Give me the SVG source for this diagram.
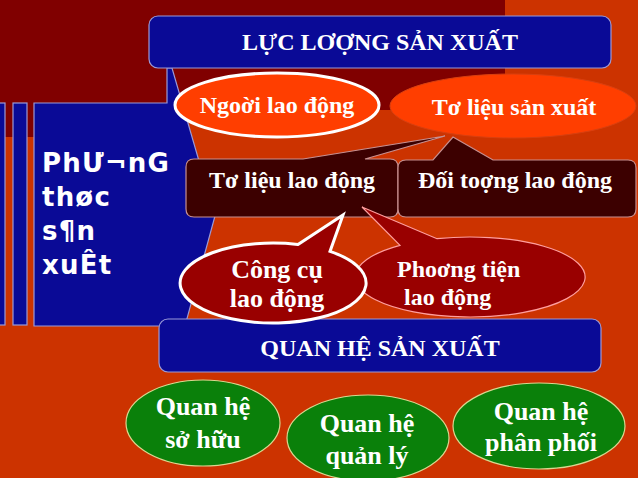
<svg xmlns="http://www.w3.org/2000/svg" width="638" height="478" viewBox="0 0 638 478">
<style>
.t{font-family:"Liberation Serif","DejaVu Serif",serif;font-weight:bold;font-size:24px;fill:#ffffff;text-anchor:middle}
.b{font-size:26px}
.ts{text-anchor:start}
.side{font-family:"DejaVu Sans","Liberation Sans",sans-serif;font-weight:bold;font-size:26px;fill:#ffffff;letter-spacing:1.2px}
.blue{fill:#0a0a96;stroke:#9a9ad8;stroke-width:1.2}
.dark{fill:#3c0000;stroke:#c89090;stroke-width:1.2}
.hot{fill:#ff3e00}
.wine{fill:#990000}
.green{fill:#0a800a;stroke:#d8d890;stroke-width:1.2}
</style>
<rect x="0" y="0" width="638" height="478" fill="#cc3300"/>
<polygon points="0,0 505,0 505,110 167,110 167,137 0,137" fill="#800000"/>
<g id="side-panel">
<polygon class="blue" points="34,103 167,103 167,68 172,68 215,216 185,326 34,326"/>
<rect class="blue" x="-2" y="103" width="7" height="222"/>
<rect class="blue" x="13" y="103" width="14" height="222"/>
<text class="side" x="42" y="172">PhƯ¬nG</text>
<text class="side" x="42" y="206">thøc</text>
<text class="side" x="42" y="240">s¶n</text>
<text class="side" x="42" y="274">xuÊt</text>
</g>
<g id="connectors"></g>
<g id="luc-luong">
<rect class="blue" x="149" y="16" width="462" height="52" rx="9"/>
<text class="t" x="380" y="50">LỰC LƠỢNG SẢN XUẤT</text>
</g>
<g id="nguoi-lao-dong">
<ellipse class="hot" cx="277" cy="105" rx="102" ry="32" stroke="#ffffff" stroke-width="3"/>
<text class="t" x="277" y="113">Ngoời lao động</text>
</g>
<g id="tu-lieu-san-xuat">
<ellipse class="hot" cx="513" cy="106" rx="123" ry="32" stroke="#d84010" stroke-width="1"/>
<text class="t" x="514" y="115">Tơ liệu sản xuất</text>
</g>
<g id="tu-lieu-lao-dong">
<path class="dark" d="M194,159 L303,159 L445,136 L365,159 L390,159 Q398,159 398,167 L398,209 Q398,217 390,217 L194,217 Q186,217 186,209 L186,167 Q186,159 194,159 Z"/>
<text class="t" x="292" y="188">Tơ liệu lao động</text>
</g>
<g id="doi-tuong-lao-dong">
<path class="dark" d="M406,160 L433,160 L453,137 L493,160 L628,160 Q636,160 636,168 L636,209 Q636,217 628,217 L406,217 Q398,217 398,209 L398,168 Q398,160 406,160 Z"/>
<text class="t" x="515" y="188">Đối toợng lao động</text>
</g>
<g id="quan-he-san-xuat">
<rect class="blue" x="159" y="319" width="442" height="53" rx="9"/>
<text class="t" x="380" y="356">QUAN HỆ SẢN XUẤT</text>
</g>
<g id="phuong-tien">
<path class="wine" stroke="#ff9f9f" stroke-width="1.2" d="M400,245.3 L362,207 L437,238.7 A115,40 0 1,1 400,245.3 Z"/>
<text class="t ts" x="397" y="277">Phoơng tiện</text>
<text class="t ts" x="404" y="305">lao động</text>
</g>
<g id="cong-cu">
<path class="wine" stroke="#ffffff" stroke-width="3" d="M298,244.5 L343,215 L330,251.4 A93,40 0 1,1 298,244.5 Z"/>
<text class="t b" x="277" y="278">Công cụ</text>
<text class="t b" x="277" y="307">lao động</text>
</g>
<g id="so-huu">
<ellipse class="green" cx="203" cy="423" rx="77" ry="43"/>
<text class="t b" x="203" y="415">Quan hệ</text>
<text class="t b" x="203" y="448">sở hữu</text>
</g>
<g id="quan-ly">
<ellipse class="green" cx="368" cy="438" rx="81" ry="43"/>
<text class="t b" x="367" y="432">Quan hệ</text>
<text class="t b" x="367" y="464">quản lý</text>
</g>
<g id="phan-phoi">
<ellipse class="green" cx="539" cy="426" rx="86" ry="43"/>
<text class="t b" x="541" y="420">Quan hệ</text>
<text class="t b" x="541" y="451">phân phối</text>
</g>
</svg>
